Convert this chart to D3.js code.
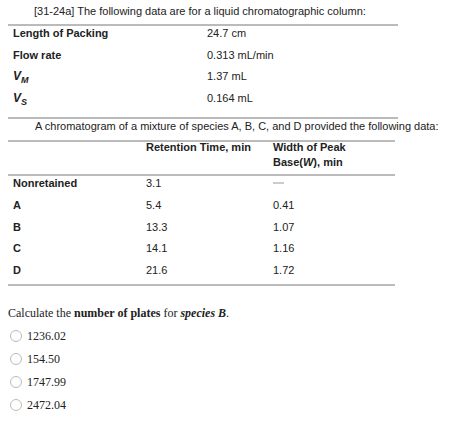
<!DOCTYPE html><html><head><meta charset="utf-8"><script src="https://d3js.org/d3.v7.min.js"></script>
<style>body{margin:0;background:#fff}</style></head><body><script>
const title="[31-24a] The following data are for a liquid chromatographic column:";
const paramLabels=["Length of Packing","Flow rate","V_M","V_S"];
const paramValues=["24.7 cm","0.313 mL/min","1.37 mL","0.164 mL"];
const intro="A chromatogram of a mixture of species A, B, C, and D provided the following data:";
const species=["Nonretained","A","B","C","D"];
const retention=["3.1","5.4","13.3","14.1","21.6"];
const widths=["—","0.41","1.07","1.16","1.72"];
const options=["1236.02","154.50","1747.99","2472.04"];

const svg=d3.select("body").append("svg").attr("width",474).attr("height",431);
const sans="Liberation Sans, Arial, sans-serif", serif="Liberation Serif, Times New Roman, serif";
const t=(x,y,s,o={})=>svg.append("text").attr("x",x).attr("y",y).attr("font-family",o.f||sans)
  .attr("font-size",o.s||11).attr("font-weight",o.b?"bold":null).attr("fill","#222").text(s);
const line=(y,x2)=>svg.append("line").attr("x1",8).attr("x2",x2).attr("y1",y).attr("y2",y).attr("stroke","#777").attr("stroke-width",1);

t(34,15,title);
line(25,398);
const py=d3.scalePoint().domain(paramLabels).range([37,102]);
paramLabels.forEach((l,i)=>{
  const y=py(l);
  if(l.startsWith("V_")){
    const g=t(13,y,"",{b:1});
    g.append("tspan").attr("font-style","italic").attr("font-size",12).text("V");
    g.append("tspan").attr("font-style","italic").attr("font-size",9).attr("dy",3).text(l.slice(2));
  } else t(13,y,l,{b:1});
  t(207,y,paramValues[i]);
});
line(118,398);
t(35,130,intro);
line(141,395);
t(146,151,"Retention Time, min",{b:1});
t(273,151,"Width of Peak",{b:1});
const h2=t(273,166,"Base(",{b:1});
h2.append("tspan").attr("font-style","italic").text("W");h2.append("tspan").text("), min");
line(175,395);
const ry=d3.scalePoint().domain(species).range([187,274]);
species.forEach((s,i)=>{
  const y=ry(s);
  t(13,y,s,{b:1});
  t(146,y,retention[i]);
  if(widths[i]==="—") svg.append("line").attr("x1",273).attr("x2",284).attr("y1",y-4).attr("y2",y-4).attr("stroke","#999");
  else t(273,y,widths[i]);
});
line(285,395);
const q=t(8,317,"Calculate the ",{f:serif,s:12});
q.append("tspan").attr("font-weight","bold").text("number of plates");
q.append("tspan").text(" for ");
q.append("tspan").attr("font-weight","bold").attr("font-style","italic").text("species B");
q.append("tspan").text(".");
const oy=d3.scalePoint().domain(options).range([336,405]);
options.forEach(o=>{
  const y=oy(o);
  svg.append("circle").attr("cx",16).attr("cy",y).attr("r",5.5).attr("fill","#fff").attr("stroke","#bbb");
  t(27,y+4,o,{f:serif,s:12});
});
</script></body></html>
